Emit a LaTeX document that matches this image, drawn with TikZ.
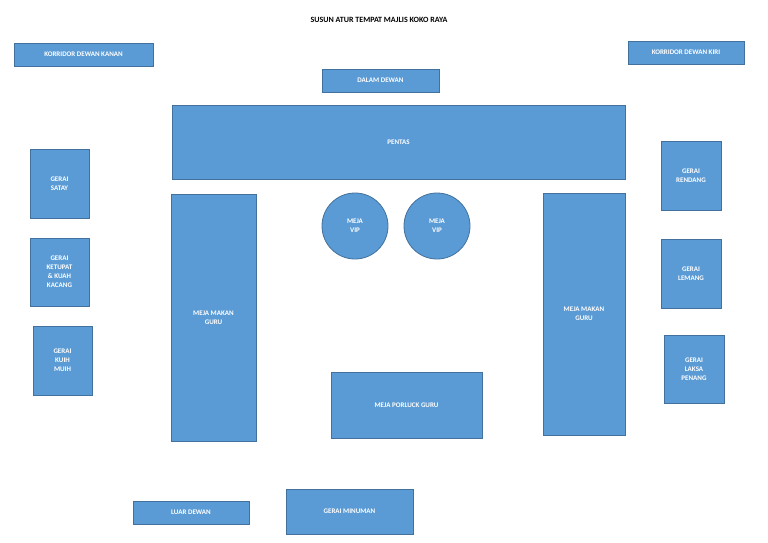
\documentclass[tikz,border=0pt]{standalone}
\usepackage{fontspec}
\setmainfont{Carlito}
\definecolor{boothfill}{HTML}{5B9BD5}
\definecolor{boothline}{HTML}{41719C}
\tikzset{
  booth/.style={draw=boothline, fill=boothfill, line width=0.8pt, text=white,
    font=\bfseries\fontsize{7}{9}\selectfont, align=center, inner sep=0pt},
  vip/.style={booth, circle, minimum size=66pt},
}
% rectangular area from corner to corner, text in the middle
\newcommand{\area}[6]{%
  \node[booth, minimum width={#4-#2}, minimum height={#5-#3}]
    (#1) at ({(#2+#4)/2},{(#3+#5)/2}) {#6};}
\begin{document}
\begin{tikzpicture}[x=1pt, y=-1pt]
  \useasboundingbox (0,0) rectangle (768,543);
  \node[font=\bfseries\fontsize{8}{10}\selectfont] (title) at (379,20) {SUSUN ATUR TEMPAT MAJLIS KOKO RAYA};
  % corridors and stage
  \area{kanan}{14}{43}{153}{66}{KORRIDOR DEWAN KANAN}
  \area{kiri}{628}{41}{744}{64}{KORRIDOR DEWAN KIRI}
  \area{dalam}{322}{69}{439}{92}{DALAM DEWAN}
  \area{pentas}{172}{105}{625}{179}{PENTAS}
  % stalls
  \area{satay}{30}{149}{89}{218}{GERAI\\SATAY}
  \area{ketupat}{30}{238}{89}{306}{GERAI\\KETUPAT\\\& KUAH\\KACANG}
  \area{kuih}{33}{326}{92}{395}{GERAI\\KUIH\\MUIH}
  \area{rendang}{661}{141}{721}{210}{GERAI\\RENDANG}
  \area{lemang}{661}{239}{721}{308}{GERAI\\LEMANG}
  \area{laksa}{664}{335}{724}{403}{GERAI\\LAKSA\\PENANG}
  % tables
  \area{gurukiri}{171}{194}{256}{441}{MEJA MAKAN\\GURU}
  \area{gurukanan}{543}{193}{625}{435}{MEJA MAKAN\\GURU}
  \node[vip] (vipa) at (355,226) {MEJA\\VIP};
  \node[vip] (vipb) at (437,226) {MEJA\\VIP};
  \area{porluck}{331}{372}{482}{438}{MEJA PORLUCK GURU}
  \area{luar}{133}{501}{249}{524}{LUAR DEWAN}
  \area{minuman}{286}{489}{413}{534}{GERAI MINUMAN}
\end{tikzpicture}
\end{document}
